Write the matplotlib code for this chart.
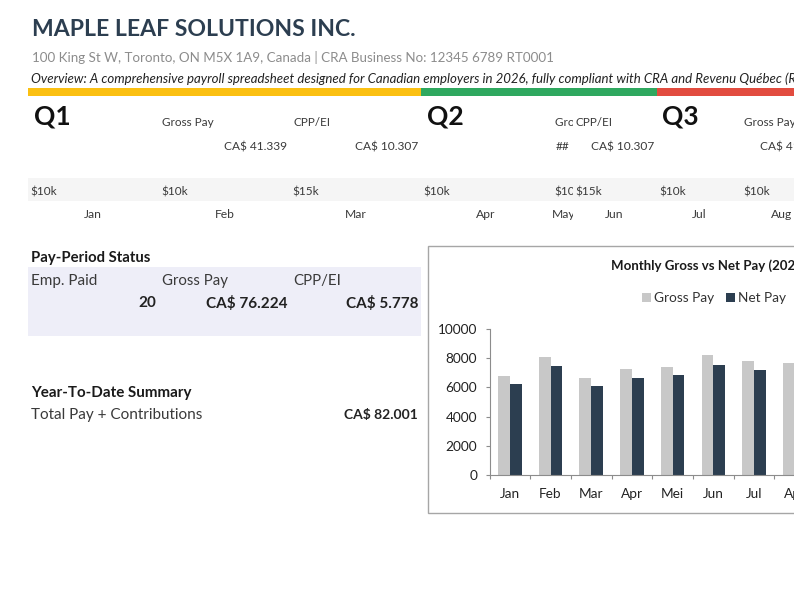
#!/usr/bin/python

import matplotlib
matplotlib.use('Agg')

import numpy as np
import matplotlib.pyplot as plt
from matplotlib.patches import Rectangle

plt.rcParams['font.family'] = ['Lato', 'DejaVu Sans']

#### ======================  NOTE: data
months     = ['Jan', 'Feb', 'Mar', 'Apr', 'Mei', 'Jun', 'Jul', 'Apr']
gross_pay  = [6800, 8100, 6650, 7250, 7400, 8200, 7800, 7700]
net_pay    = [6250, 7500, 6100, 6650, 6850, 7550, 7200, 7100]
y_ticks    = [0, 2000, 4000, 6000, 8000, 10000]

title      = 'MAPLE LEAF SOLUTIONS INC.'
address    = '100 King St W, Toronto, ON M5X 1A9, Canada | CRA Business No: 12345 6789 RT0001'
overview   = ('Overview: A comprehensive payroll spreadsheet designed for Canadian employers '
              'in 2026, fully compliant with CRA and Revenu Québec (RQ)')
chart_name = 'Monthly Gross vs Net Pay (2026)'

NAVY = '#2c3e50'
GREY = '#c8c8c8'
TEXT = '#3a3a3a'

#### ======================  NOTE: page in pixel coordinates
fig = plt.figure(figsize=(7.94, 5.95), dpi=100)
page = fig.add_axes([0, 0, 1, 1])
page.set_xlim(0, 794)
page.set_ylim(595, 0)
page.axis('off')


def box(x0, y0, x1, y1, color, **kw):
    page.add_patch(Rectangle((x0, y0), x1 - x0, y1 - y0, facecolor=color, edgecolor='none', **kw))


def txt(x, y, s, size=9, color=TEXT, ha='left', weight='normal', style='normal', clip=None):
    t = page.text(x, y + 1, s, fontsize=size, color=color, ha=ha, va='center',
                  fontweight=weight, fontstyle=style)
    if clip is not None:
        t.set_clip_path(Rectangle((clip[0], 0), clip[1] - clip[0], 595, transform=page.transData))
        t.set_clip_on(True)
    return t


txt(32, 28, title, size=16.6, color=NAVY, weight='bold')
txt(32, 57, address, size=9.6, color='#8c8c8c')
txt(31, 78, overview, size=9.5, color='#222222', style='italic')

box(28, 88, 421, 96, '#fbc012')
box(421, 88, 657, 96, '#2fa85f')
box(657, 88, 794, 96, '#e24c3f')
box(28, 178, 794, 201, '#f5f5f5')

# quarter rows
for x, s in [(34, 'Q1'), (427, 'Q2'), (662, 'Q3')]:
    txt(x, 116, s, size=19, color='#111111', weight='bold')

for x, s in [(162, 'Gross Pay'), (293, 'CPP/EI'), (576, 'CPP/EI'), (744, 'Gross Pay')]:
    txt(x, 121, s, size=8.5)
txt(555, 121, 'Gross Pay', size=8.5, clip=(555, 573))

for x, s in [(287, 'CA$ 41.339'), (418, 'CA$ 10.307'), (654, 'CA$ 10.307')]:
    txt(x, 146, s, size=8.6, ha='right')
txt(556, 146, '##', size=8.6)
txt(760, 146, 'CA$ 41.339', size=8.6)

for x in [30, 161, 423, 659, 743]:
    txt(x, 191, '$10k', size=8.5)
for x in [292, 575]:
    txt(x, 191, '$15k', size=8.5)
txt(554, 191, '$10k', size=8.5, clip=(554, 573))

for x, s in [(93, 'Jan'), (225, 'Feb'), (356, 'Mar'), (486, 'Apr'), (614, 'Jun'), (699, 'Jul'), (782, 'Aug')]:
    txt(x, 213, s, size=8.7, ha='center')
txt(552, 213, 'May', size=8.7, clip=(552, 573))

# status blocks
box(28, 267, 421, 336, '#eeeef8')
txt(31, 257, 'Pay-Period Status', size=10.7, color='#1a1a1a', weight='bold')
txt(31, 280, 'Emp. Paid', size=11)
txt(162, 280, 'Gross Pay', size=10.8)
txt(293, 280, 'CPP/EI', size=10.8)
txt(156, 302, '20', size=11, color='#222222', ha='right', weight='bold')
txt(287, 302, 'CA$ 76.224', size=11, color='#222222', ha='right', weight='bold')
txt(418, 302, 'CA$ 5.778', size=11, color='#222222', ha='right', weight='bold')

txt(31, 392, 'Year-To-Date Summary', size=10.9, color='#1a1a1a', weight='bold')
txt(31, 414, 'Total Pay + Contributions', size=11)
txt(418, 414, 'CA$ 82.001', size=10, color='#222222', ha='right', weight='bold')

# chart frame, runs off the right side of the page
page.add_patch(Rectangle((428, 246), 500, 267, facecolor='white', edgecolor='#a6a6a6', linewidth=1))
txt(611, 265, chart_name, size=9.5, color='#1a1a1a', weight='bold')

#### ======================  NOTE: chart
cat_w = 40.7
n = len(months)
ax = fig.add_axes([489.5 / 794, (595 - 475) / 595, n * cat_w / 794, 146 / 595])
ax.patch.set_alpha(0)

x = np.arange(n)
bar_w = 0.29
h1 = ax.bar(x - bar_w / 2, gross_pay, bar_w, color=GREY)
h2 = ax.bar(x + bar_w / 2, net_pay, bar_w, color=NAVY)

ax.set_xlim(-0.5, n - 0.5)
ax.set_ylim(0, 10000)
ax.set_yticks(y_ticks)
ax.set_xticks(np.arange(n + 1) - 0.5)
ax.set_xticklabels([])
ax.set_xticks(x, minor=True)
ax.set_xticklabels(months, minor=True)
ax.tick_params(axis='x', which='major', length=3, color='#8c8c8c', width=0.8)
ax.tick_params(axis='x', which='minor', length=0, pad=9, labelsize=9.8, labelcolor='#222222')
ax.tick_params(axis='y', length=3, color='#8c8c8c', width=0.8, pad=6, labelsize=9.8, labelcolor='#222222')
for side in ['top', 'right']:
    ax.spines[side].set_visible(False)
for side in ['left', 'bottom']:
    ax.spines[side].set_color('#8c8c8c')
    ax.spines[side].set_linewidth(0.8)

fig.legend([h1, h2], ['Gross Pay', 'Net Pay'], loc='center left',
           bbox_to_anchor=(630 / 794, (595 - 298) / 595), ncol=2, frameon=False,
           fontsize=9.8, labelcolor='#333333', handlelength=0.65, handleheight=0.65,
           handletextpad=0.22, columnspacing=0.9)

fig.savefig('out.png', dpi=100)
